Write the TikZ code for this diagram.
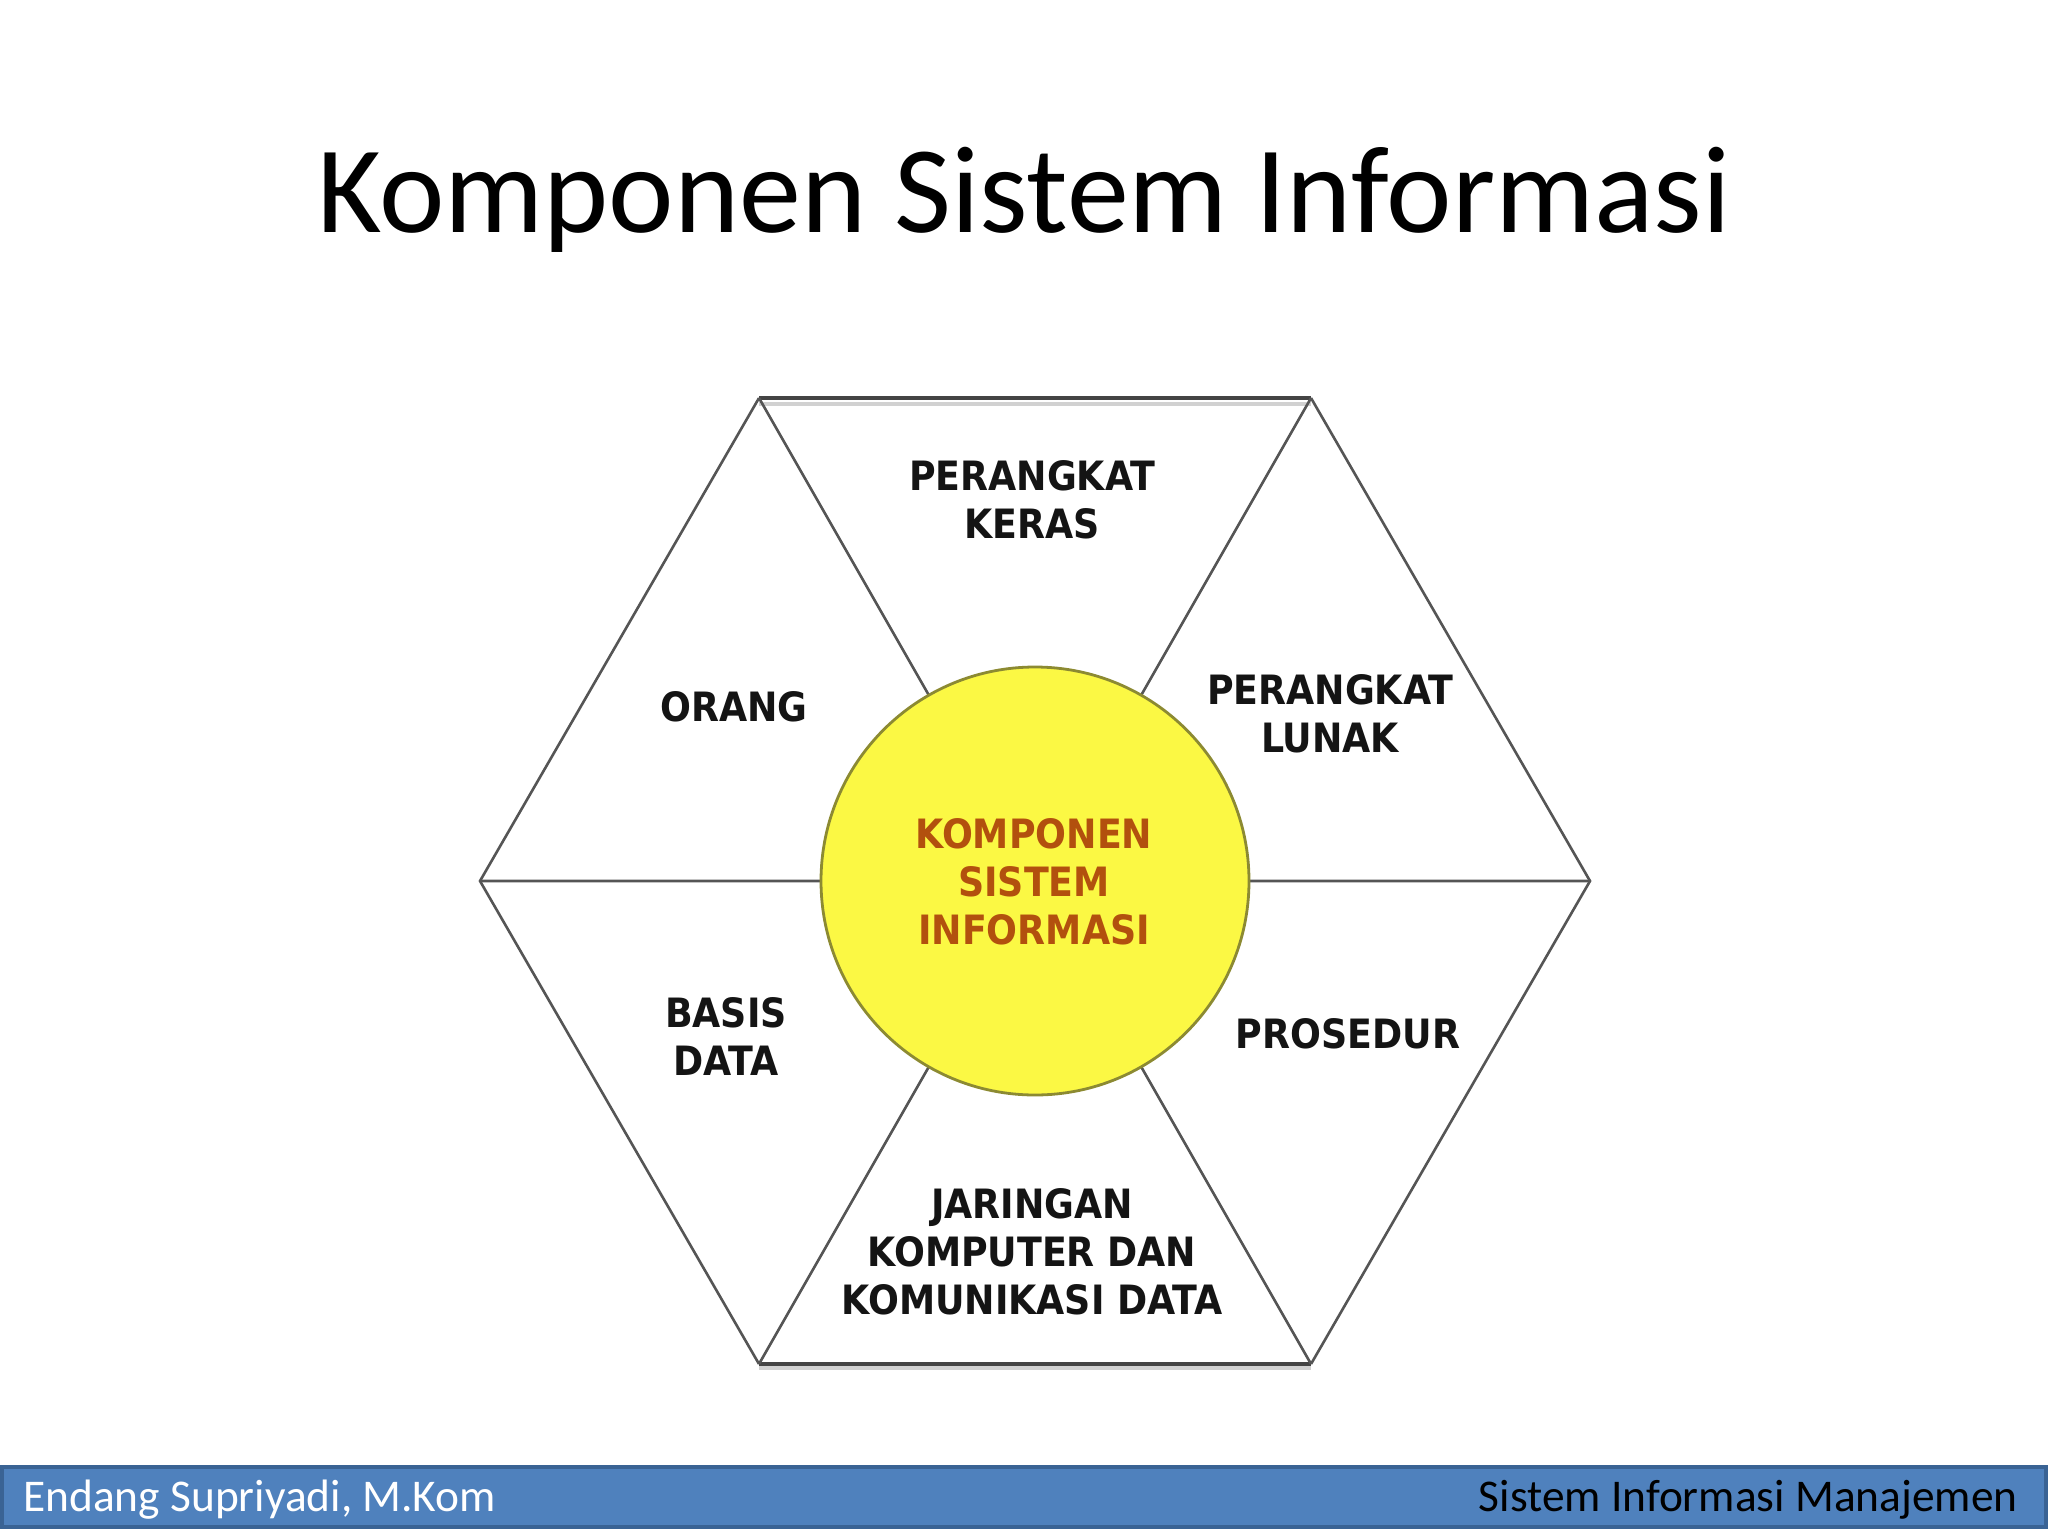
\documentclass[tikz,border=0pt]{standalone}
\usepackage{fontspec}
\setmainfont{Carlito}
\newfontfamily\lblfont{DejaVu Sans Condensed}[BoldFont={DejaVu Sans Condensed Bold}]
\definecolor{barfill}{HTML}{4F81BD}
\definecolor{barline}{HTML}{3A6394}
\definecolor{hexline}{HTML}{555555}
\definecolor{sunfill}{HTML}{FBF844}
\definecolor{sunline}{HTML}{8C8A32}
\definecolor{coretext}{RGB}{178,80,14}
\begin{document}
\begin{tikzpicture}[x=0.5pt,y=-0.5pt,
  lbl/.style={font=\lblfont\bfseries\fontsize{20.2}{24}\selectfont, text=black!92, align=center, inner sep=0pt},
  hexedge/.style={draw=hexline, line width=1.3pt},
  rimedge/.style={draw=hexline!80!black, line width=2.2pt},
  shadowedge/.style={draw=black!18, line width=2pt}]
\useasboundingbox (0,0) rectangle (2048,1536);
\fill[white] (0,0) rectangle (2048,1536);
% title
\node[anchor=base, font=\fontsize{62}{70}\selectfont, inner sep=0pt] (title) at (1024,232) {Komponen Sistem Informasi};
% hexagon
\coordinate (c) at (1035,881);
\coordinate (vl) at (480,881);
\coordinate (vr) at (1590,881);
\coordinate (vtl) at (759,398);
\coordinate (vtr) at (1311,398);
\coordinate (vbl) at (759,1364);
\coordinate (vbr) at (1311,1364);
\draw[shadowedge] ([yshift=-3pt]vtl) -- ([yshift=-3pt]vtr);
\draw[shadowedge] ([yshift=-2pt]vbl) -- ([yshift=-2pt]vbr);
\draw[hexedge] (vtr) -- (vr) -- (vbr);
\draw[hexedge] (vbl) -- (vl) -- (vtl);
\draw[rimedge] (vtl) -- (vtr);
\draw[rimedge] (vbl) -- (vbr);
\draw[hexedge] (vtl) -- (c) (vtr) -- (c) (vl) -- (c) (vr) -- (c) (vbl) -- (c) (vbr) -- (c);
% core circle
\node[circle, minimum size=428*0.5pt, fill=sunfill, draw=sunline, line width=1.4pt, inner sep=0pt] (core) at (c) {};
\node[lbl, text=coretext] (coretxt) at (1034,882) {KOMPONEN\\SISTEM\\INFORMASI};
% labels
\node[lbl] (hw) at (1032,500) {PERANGKAT\\KERAS};
\node[lbl] (orang) at (734,707) {ORANG};
\node[lbl] (sw) at (1330,714) {PERANGKAT\\LUNAK};
\node[lbl] (db) at (726,1036) {BASIS\\DATA};
\node[lbl] (pros) at (1348,1034) {PROSEDUR};
\node[lbl] (net) at (1032,1252) {JARINGAN\\KOMPUTER DAN\\KOMUNIKASI DATA};
% footer bar
\draw[fill=barfill, draw=barline, line width=2pt] (2,1467) rectangle (2046,1527);
\node[anchor=base west, font=\fontsize{22.7}{28}\selectfont, text=white, inner sep=0pt] (author) at (23,1511) {Endang Supriyadi, M.Kom};
\node[anchor=base east, font=\fontsize{22.7}{28}\selectfont, text=black, inner sep=0pt] (course) at (2018,1511) {Sistem Informasi Manajemen};
\end{tikzpicture}
\end{document}
